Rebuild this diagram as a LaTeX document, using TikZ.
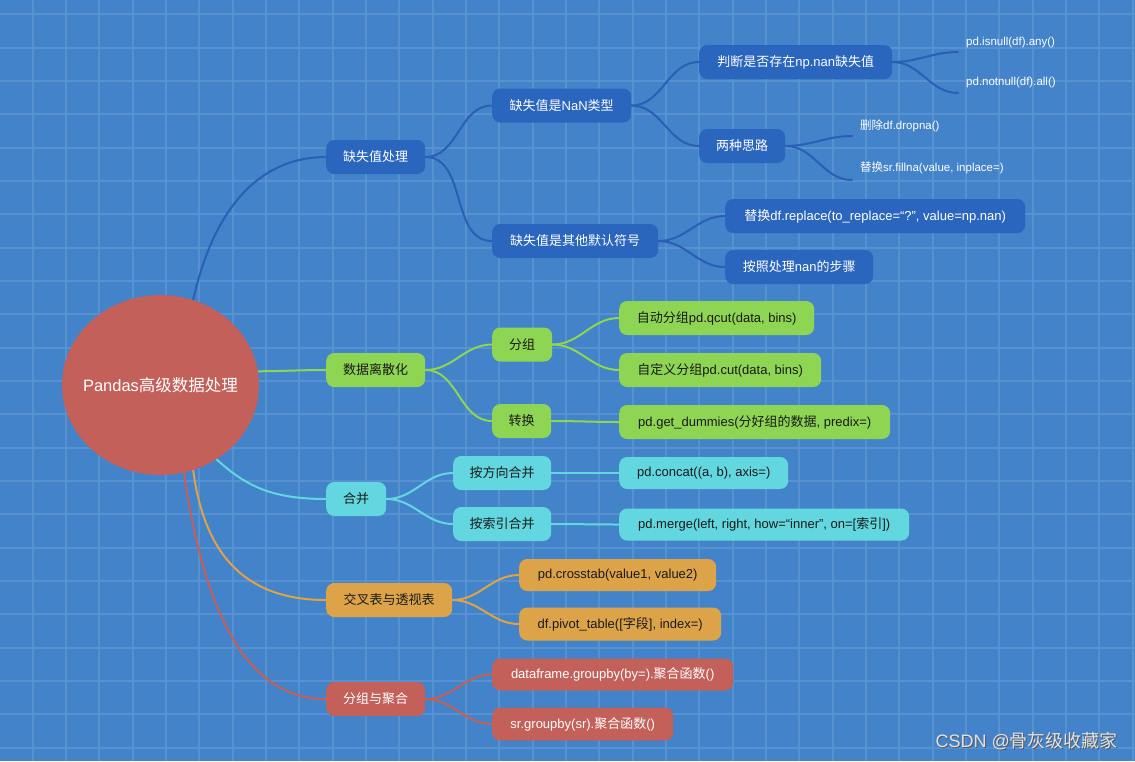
\documentclass[tikz,border=0pt]{standalone}
\usepackage{fontspec}
\setmainfont{Liberation Sans}
\newfontfamily\cjk{Noto Sans CJK SC}
\newcommand{\zh}[1]{{\cjk #1}}
\usetikzlibrary{shapes.geometric}
\definecolor{bgc}{HTML}{4383C9}
\definecolor{gridc}{HTML}{5891D0}
\definecolor{cblue}{HTML}{2A65BE}
\definecolor{eblue}{HTML}{2A5FB6}
\definecolor{cgreen}{HTML}{8ED553}
\definecolor{ccyan}{HTML}{62D7DF}
\definecolor{corange}{HTML}{DDA349}
\definecolor{cred}{HTML}{C4605A}
\definecolor{darktext}{HTML}{1A1A1A}
\definecolor{wmc}{HTML}{E2E2E2}
\pgfdeclarelayer{back}
\pgfdeclarelayer{edgelayer}
\pgfsetlayers{back,edgelayer,main}
\tikzset{
  box/.style={rounded corners=8pt, minimum height=34pt, inner xsep=16pt, inner ysep=0pt, anchor=west, font=\fontsize{13}{15}\selectfont},
  bluebox/.style={box, fill=cblue, text=white},
  greenbox/.style={box, fill=cgreen, text=darktext},
  cyanbox/.style={box, fill=ccyan, text=darktext},
  orangebox/.style={box, fill=corange, text=darktext},
  redbox/.style={box, fill=cred, text=white},
  leaf/.style={anchor=west, inner sep=0pt, text=white, font=\fontsize{11.5}{13}\selectfont},
  link/.style={line width=2pt, line cap=round},
  blink/.style={link, draw=eblue},
  glink/.style={link, draw=cgreen},
  clink/.style={link, draw=ccyan},
  olink/.style={link, draw=corange},
  rlink/.style={link, draw=cred},
  sc/.style={out=0, in=180}
}
\begin{document}
\begin{tikzpicture}[x=1pt, y=-1pt]
\useasboundingbox (0,0) rectangle (1135,761);
\begin{pgfonlayer}{back}
\fill[bgc] (0,0) rectangle (1135,761);
\foreach \i in {0,...,33} {
  \pgfmathsetmacro{\gx}{round(32.7+33.333*\i)}
  \draw[gridc, line width=2pt] (\gx,0) -- ++(0,761);
}
\foreach \j in {0,...,22} {
  \pgfmathsetmacro{\gy}{round(14.3+33.333*\j)}
  \draw[gridc, line width=2pt] (0,\gy) -- ++(1135,0);
}
\end{pgfonlayer}

% root
\node[ellipse, fill=cred, minimum width=197pt, minimum height=180pt, inner sep=0pt, text=white, font=\fontsize{16.5}{18}\selectfont] (root) at (160.5,385) {\makebox[0pt]{Pandas\zh{高级数据处理}}};

% level 1
\node[bluebox, minimum width=99pt] (a) at (326,157) {\zh{缺失值处理}};
\node[greenbox, minimum width=99pt] (b) at (326,370) {\zh{数据离散化}};
\node[cyanbox, minimum width=60pt] (c) at (326,499) {\zh{合并}};
\node[orangebox, minimum width=126pt] (d) at (326,600) {\zh{交叉表与透视表}};
\node[redbox, minimum width=99pt] (e) at (326,699) {\zh{分组与聚合}};

% level 2
\node[bluebox, minimum width=139pt] (a1) at (492,105.5) {\zh{缺失值是}NaN\zh{类型}};
\node[bluebox, minimum width=166pt] (a2) at (492,241) {\zh{缺失值是其他默认符号}};
\node[greenbox, minimum width=60pt] (b1) at (492,344.5) {\zh{分组}};
\node[greenbox, minimum width=59pt] (b2) at (492,421) {\zh{转换}};
\node[cyanbox, minimum width=98pt] (c1) at (453,473) {\zh{按方向合并}};
\node[cyanbox, minimum width=98pt] (c2) at (453,524) {\zh{按索引合并}};
\node[orangebox, minimum width=197pt, minimum height=32pt] (d1) at (519,575) {pd.crosstab(value1, value2)};
\node[orangebox, minimum width=202pt, minimum height=33pt] (d2) at (519,624) {df.pivot\_table([\zh{字段}], index=)};
\node[redbox, minimum width=241pt, minimum height=32pt] (e1) at (492,674.5) {dataframe.groupby(by=).\zh{聚合函数}()};
\node[redbox, minimum width=181pt, minimum height=33pt] (e2) at (492,724) {sr.groupby(sr).\zh{聚合函数}()};

% level 3
\node[bluebox, minimum width=193pt] (a11) at (699,62) {\zh{判断是否存在}np.nan\zh{缺失值}};
\node[bluebox, minimum width=86pt] (a12) at (699,146) {\zh{两种思路}};
\node[bluebox, minimum width=300pt] (a21) at (725,216) {\zh{替换}df.replace(to\_replace=“?”, value=np.nan)};
\node[bluebox, minimum width=148pt] (a22) at (725,267) {\zh{按照处理}nan\zh{的步骤}};
\node[greenbox, minimum width=195pt] (b11) at (619,318) {\zh{自动分组}pd.qcut(data, bins)};
\node[greenbox, minimum width=202pt] (b12) at (619,370) {\zh{自定义分组}pd.cut(data, bins)};
\node[greenbox, minimum width=271pt] (b21) at (619,422) {pd.get\_dummies(\zh{分好组的数据}, predix=)};
\node[cyanbox, minimum width=169pt, minimum height=32pt] (c11) at (619,473) {pd.concat((a, b), axis=)};
\node[cyanbox, minimum width=290pt, minimum height=32pt] (c21) at (619,524.5) {pd.merge(left, right, how=“inner”, on=[\zh{索引}])};

% leaves
\node[leaf] (l1) at (966,43) {pd.isnull(df).any()};
\node[leaf] (l2) at (966,83) {pd.notnull(df).all()};
\node[leaf] (l3) at (860,126) {\zh{删除}df.dropna()};
\node[leaf] (l4) at (860,168) {\zh{替换}sr.fillna(value, inplace=)};
\coordinate (l1e) at (958,52);
\coordinate (l2e) at (958,93);
\coordinate (l3e) at (852,136);
\coordinate (l4e) at (852,180);

% watermark
\node[anchor=east, inner sep=0pt, text=black!65, font=\fontsize{18}{20}\selectfont] (wms) at (1119,742) {CSDN @\zh{骨灰级收藏家}};
\node[anchor=east, inner sep=0pt, text=wmc, font=\fontsize{18}{20}\selectfont] (wm) at (1118,741) {CSDN @\zh{骨灰级收藏家}};

\begin{pgfonlayer}{edgelayer}
% root edges
\draw[blink] (root.69) .. controls (212,215) and (255,157) .. (a.west);
\draw[glink] (root.8) .. controls (290,371) and (300,370) .. (b.west);
\draw[clink] (root.-53) .. controls (245,485) and (270,499) .. (c.west);
\draw[olink] (root.-69) .. controls (205,560) and (250,600) .. (d.west);
\draw[rlink] (root.-75) .. controls (205,620) and (250,699) .. (e.west);
% level 1 -> 2
\draw[blink] (a.east) to[sc] (a1.west);
\draw[blink] (a.east) to[sc] (a2.west);
\draw[glink] (b.east) to[sc] (b1.west);
\draw[glink] (b.east) to[sc] (b2.west);
\draw[clink] (c.east) to[sc] (c1.west);
\draw[clink] (c.east) to[sc] (c2.west);
\draw[olink] (d.east) to[sc] (d1.west);
\draw[olink] (d.east) to[sc] (d2.west);
\draw[rlink] (e.east) to[sc] (e1.west);
\draw[rlink] (e.east) to[sc] (e2.west);
% level 2 -> 3
\draw[blink] (a1.east) to[sc] (a11.west);
\draw[blink] (a1.east) to[sc] (a12.west);
\draw[blink] (a2.east) to[sc] (a21.west);
\draw[blink] (a2.east) to[sc] (a22.west);
\draw[glink] (b1.east) to[sc] (b11.west);
\draw[glink] (b1.east) to[sc] (b12.west);
\draw[glink] (b2.east) to[sc] (b21.west);
\draw[clink] (c1.east) to[sc] (c11.west);
\draw[clink] (c2.east) to[sc] (c21.west);
% level 3 -> leaves
\draw[blink] (a11.east) to[sc] (l1e);
\draw[blink] (a11.east) to[sc] (l2e);
\draw[blink] (a12.east) to[sc] (l3e);
\draw[blink] (a12.east) to[sc] (l4e);
\end{pgfonlayer}
\end{tikzpicture}
\end{document}
